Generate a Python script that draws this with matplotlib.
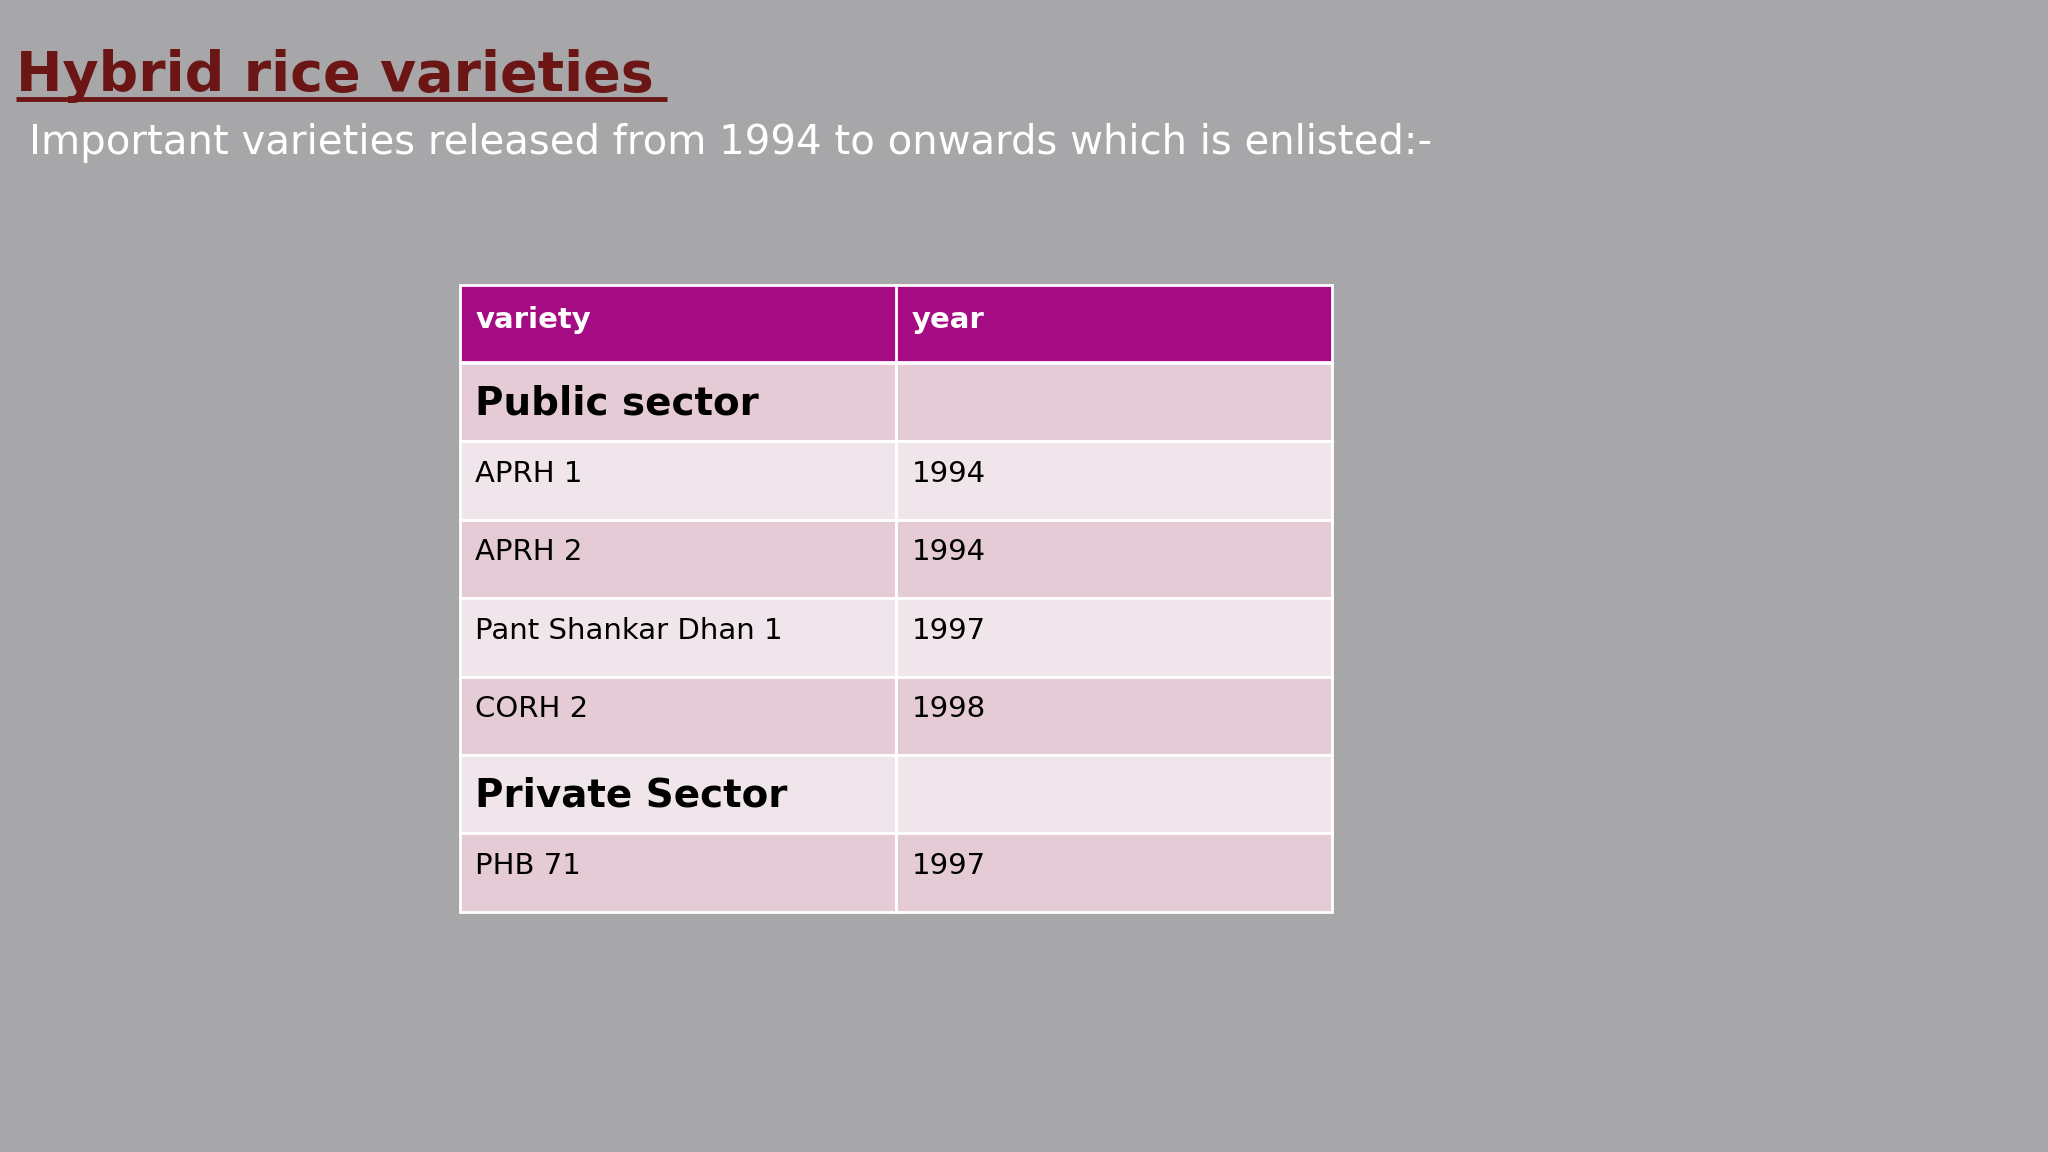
import matplotlib
matplotlib.use("Agg")
import matplotlib.pyplot as plt
from matplotlib.patches import Rectangle

title = "Hybrid rice varieties"
subtitle = "Important varieties released from 1994 to onwards which is enlisted:-"
headers = ["variety", "year"]
varieties = ["Public sector", "APRH 1", "APRH 2", "Pant Shankar Dhan 1", "CORH 2", "Private Sector", "PHB 71"]
years = ["", "1994", "1994", "1997", "1998", "", "1997"]
section_rows = [0, 5]

W, H = 1568, 882
fig = plt.figure(figsize=(20.48, 11.52), dpi=100)
fig.patch.set_facecolor("#a7a6a8")
ax = fig.add_axes([0, 0, 1, 1])
ax.set_xlim(0, W); ax.set_ylim(H, 0); ax.axis("off")
ax.set_facecolor("#a7a6a8")

ax.text(12, 70, title, fontsize=40, fontweight="bold", color="#6b1515", va="baseline", ha="left", family="DejaVu Sans")
ax.plot([12, 511], [76, 76], color="#6b1515", lw=3.5, solid_capstyle="butt")
ax.text(22, 118, subtitle, fontsize=29, color="white", va="baseline", ha="left", family="DejaVu Sans")

x0, xm, x1 = 352, 686, 1020
y0, hh, rh = 218, 59, 60
ax.add_patch(Rectangle((x0, y0), x1 - x0, hh, facecolor="#a50b82", edgecolor="white", lw=2))
ax.plot([xm, xm], [y0, y0 + hh], color="white", lw=2)
ax.text(x0 + 12, y0 + 27, headers[0], fontsize=21, fontweight="bold", color="white", va="center")
ax.text(xm + 12, y0 + 27, headers[1], fontsize=21, fontweight="bold", color="white", va="center")

ystart = y0 + hh + 1
for i, (v, yr) in enumerate(zip(varieties, years)):
    y = ystart + i * rh
    col = "#e4cbd6" if i % 2 == 0 else "#f0e5eb"
    for xa, xb in [(x0, xm), (xm, x1)]:
        ax.add_patch(Rectangle((xa, y), xb - xa, rh, facecolor=col, edgecolor="white", lw=2))
    if i in section_rows:
        ax.text(x0 + 12, y + 31, v, fontsize=28, fontweight="bold", color="black", va="center")
    else:
        ax.text(x0 + 12, y + 25, v, fontsize=21, color="black", va="center")
        ax.text(xm + 12, y + 25, yr, fontsize=21, color="black", va="center")

fig.savefig("out.png", dpi=100, facecolor=fig.get_facecolor())
